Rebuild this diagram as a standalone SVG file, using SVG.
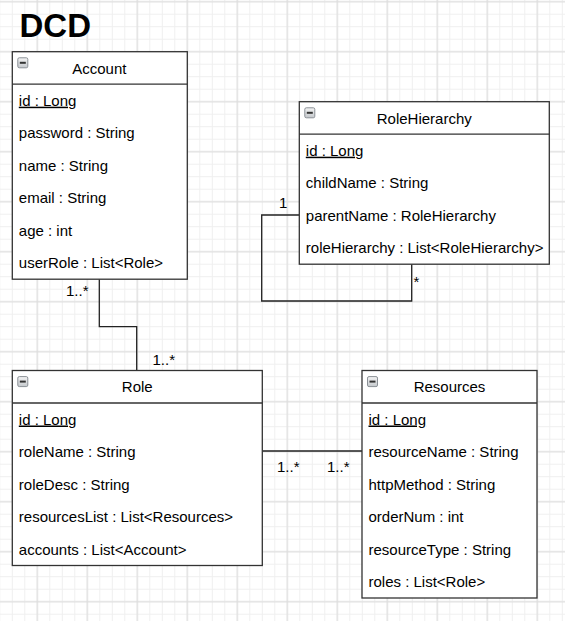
<svg xmlns="http://www.w3.org/2000/svg" width="565" height="621" viewBox="0 0 565 621">
  <defs>
    <pattern id="minor" patternUnits="userSpaceOnUse" x="-6.45" y="-4.55" width="12.5" height="12.5">
      <path d="M6.25 0V12.5M0 6.25H12.5" stroke="#efefef" stroke-width="1" fill="none"/>
    </pattern>
    <pattern id="major" patternUnits="userSpaceOnUse" x="12.3" y="-23.3" width="50" height="50">
      <path d="M25 0V50M0 25H50" stroke="#dadada" stroke-width="1" fill="none"/>
    </pattern>
    <linearGradient id="ig" x1="0" y1="0" x2="0" y2="1">
      <stop offset="0" stop-color="#f4f4f4"/>
      <stop offset="1" stop-color="#c4c8cc"/>
    </linearGradient>
    <g id="icon">
      <rect x="0.5" y="0.5" width="10" height="10" rx="1.5" fill="url(#ig)" stroke="#8a9096" stroke-width="1"/>
      <path d="M2.5 5.5H8.5" stroke="#333" stroke-width="2"/>
    </g>
  </defs>
  <style>
    .box { fill: #fff; stroke: #333; stroke-width: 1.3; }
    .sep { stroke: #333; stroke-width: 1.3; fill: none; }
    .conn { stroke: #222; stroke-width: 1.3; fill: none; }
    text { font-family: "Liberation Sans", Arial, sans-serif; font-size: 15px; fill: #000; }
    .title { font-size: 33px; font-weight: bold; }
    .hdr { text-anchor: middle; }
    .u { text-decoration: underline; }
  </style>
  <rect width="565" height="621" fill="#fff"/>
  <rect width="565" height="621" fill="url(#minor)"/>
  <rect width="565" height="621" fill="url(#major)"/>

  <text class="title" x="19.5" y="36.7">DCD</text>

  <g id="connectors">
    <path class="conn" d="M99.3 279.2V326.7H136.7V370.5"/>
    <path class="conn" d="M262.3 451H362"/>
    <path class="conn" d="M299.3 215H261.7V301H411.7V264.2"/>
    <text x="66" y="296">1..*</text>
    <text x="152.5" y="365">1..*</text>
    <text x="277" y="471.5">1..*</text>
    <text x="327" y="471.5">1..*</text>
    <text x="279" y="208">1</text>
    <text x="413.5" y="287">*</text>
  </g>

  <g id="Account">
    <rect class="box" x="12.3" y="51.7" width="175" height="227.5"/>
    <path class="sep" d="M12.3 84.2H187.3"/>
    <use href="#icon" x="17.3" y="57.3"/>
    <text class="hdr" x="99.3" y="73.8">Account</text>
    <text class="u" x="18.8" y="105.7">id : Long</text>
    <text x="18.8" y="138.2">password : String</text>
    <text x="18.8" y="170.7">name : String</text>
    <text x="18.8" y="203.2">email : String</text>
    <text x="18.8" y="235.7">age : int</text>
    <text x="18.8" y="268.2">userRole : List&lt;Role&gt;</text>
  </g>

  <g id="RoleHierarchy">
    <rect class="box" x="299.3" y="101.7" width="250" height="162.5"/>
    <path class="sep" d="M299.3 134.2H549.3"/>
    <use href="#icon" x="304.3" y="107.3"/>
    <text class="hdr" x="424.3" y="123.8">RoleHierarchy</text>
    <text class="u" x="305.8" y="155.7">id : Long</text>
    <text x="305.8" y="188.2">childName : String</text>
    <text x="305.8" y="220.7">parentName : RoleHierarchy</text>
    <text x="305.8" y="253.2">roleHierarchy : List&lt;RoleHierarchy&gt;</text>
  </g>

  <g id="Role">
    <rect class="box" x="12.3" y="370.5" width="250" height="195"/>
    <path class="sep" d="M12.3 403H262.3"/>
    <use href="#icon" x="17.3" y="376.1"/>
    <text class="hdr" x="137.3" y="392.3">Role</text>
    <text class="u" x="18.8" y="424.5">id : Long</text>
    <text x="18.8" y="457">roleName : String</text>
    <text x="18.8" y="489.5">roleDesc : String</text>
    <text x="18.8" y="522">resourcesList : List&lt;Resources&gt;</text>
    <text x="18.8" y="554.5">accounts : List&lt;Account&gt;</text>
  </g>

  <g id="Resources">
    <rect class="box" x="362" y="370.5" width="175" height="227.5"/>
    <path class="sep" d="M362 403H537"/>
    <use href="#icon" x="367" y="376.1"/>
    <text class="hdr" x="449.5" y="392.3">Resources</text>
    <text class="u" x="368.5" y="424.5">id : Long</text>
    <text x="368.5" y="457">resourceName : String</text>
    <text x="368.5" y="489.5">httpMethod : String</text>
    <text x="368.5" y="522">orderNum : int</text>
    <text x="368.5" y="554.5">resourceType : String</text>
    <text x="368.5" y="587">roles : List&lt;Role&gt;</text>
  </g>
</svg>
